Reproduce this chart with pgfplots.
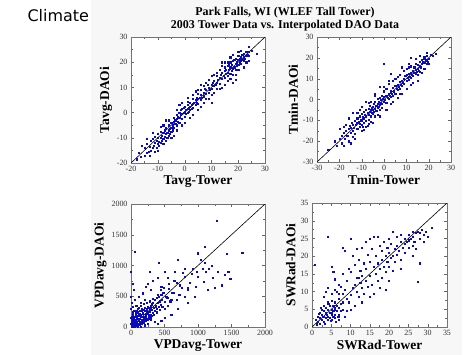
\documentclass[border=0pt]{standalone}
\usepackage{fontspec}
\setmainfont{Liberation Serif}
\newfontfamily\climatefont{DejaVu Sans}
\usepackage{pgfplots}
\pgfplotsset{compat=1.18}
\definecolor{ptblue}{RGB}{10,10,190}
\definecolor{panel}{RGB}{247,247,247}
\pgfplotsset{myax/.style={
  scale only axis, anchor=south west,
  tick align=inside, xtick pos=both, ytick pos=both,
  minor tick num=1,
  major tick length=3bp, minor tick length=1.6bp,
  tick style={black!60},
  axis line style={black!55},
  tick label style={font=\fontsize{8}{9}\selectfont, text=black!80},
  label style={font=\bfseries\fontsize{13.5}{14}\selectfont},
  /pgf/number format/assume math mode=true,
  /pgf/number format/1000 sep={},
  axis background/.style={fill=white},
  xlabel style={yshift=3bp},
  ylabel style={yshift=-2bp},
  }}
\pgfplotsset{pts/.style={only marks, mark=square*, mark size=0.55bp, ptblue, mark options={draw=none, fill=ptblue}}}
\begin{document}
\begin{tikzpicture}
\fill[white] (0bp,0bp) rectangle (474bp,355bp);
\fill[panel] (91bp,0bp) rectangle (462bp,355bp);
\node[font=\climatefont\fontsize{16}{18}\selectfont, anchor=west] at (24bp,339bp) {Climate};
\node[font=\bfseries\fontsize{12}{12.6}\selectfont, align=center] at (285bp,336bp) {Park Falls, WI (WLEF Tall Tower)\\2003 Tower Data vs. Interpolated DAO Data};

% ---------- Tavg ----------
\begin{axis}[myax, at={(131bp,192bp)}, width=134bp, height=126bp,
  xmin=-20, xmax=30, ymin=-20, ymax=30,
  xtick={-20,-10,...,30}, ytick={-20,-10,...,30},
  xlabel={Tavg-Tower}, ylabel={Tavg-DAOi}]
\addplot[black, no marks, line width=0.6bp] coordinates {(-20,-20) (30,30)};
\addplot[pts] coordinates {
(-18,-18.5) (-17,-16) (-16.5,-17.5) (-15,-17) (-15,-14) (-14,-16) (-14,-12.5) (-13.5,-15.5) (-13,-13.5) (-12.5,-11) (-12.5,-15) (-12,-14) (-12,-10.5) (-11.5,-13) (-11,-12) (-11,-9.5) (-10.5,-14) (-10.5,-11) (-10,-12.5) (-10,-10) (-10,-8.5) (-9.5,-11.5) (-9.5,-13) (-9,-10) (-9,-12) (-9,-7.5) (-8.5,-9) (-8.5,-11) (-8,-10.5) (-8,-8) (-8,-12.5) (-7.5,-9.5) (-7.5,-7) (-7,-8.5) (-7,-11) (-7,-6) (-6.5,-8) (-6.5,-10) (-6,-7) (-6,-9) (-6,-5) (-5.5,-6.5) (-5.5,-8.5) (-5,-6) (-5,-4) (-5,-7.5) (-4.5,-5) (-4.5,-7) (-4,-3.5) (-4,-6) (-4,-2) (-3.5,-4.5) (-3.5,-3) (-3,-2.5) (-3,-5) (-3,-1) (-2.5,-3.5) (-2.5,-1.5) (-2,-2) (-2,0) (-2,-4) (-1.5,-1) (-1.5,1) (-1,-0.5) (-1,-2.5) (-1,1.5) (-0.5,0) (-0.5,2) (0,0.5) (0,-1.5) (0,2.5) (0.5,1) (0.5,-0.5) (1,1.5) (1,0) (1,3) (1.5,2) (1.5,0.5) (2,2.5) (2,1) (2,4) (2.5,3) (2.5,1.5) (3,3.5) (3,2) (3,5.5) (3.5,4) (4,3) (4,5) (4.5,6) (4.5,4) (5,5.5) (5,3.5) (5,7.5) (5.5,6) (6,5) (6,7) (6,9) (6.5,6) (7,8) (7,4) (7,6.5) (7.5,9.5) (8,7.5) (8,9) (8.5,11) (9,8) (9,10) (9.5,9) (10,11) (10,9.5) (10.5,12) (11,10.5) (11,12.5) (11.5,11) (12,12) (12,14.5) (12.5,13) (13,14) (13,11.5) (13.5,15) (14,13.5) (14,16) (14.5,14.5) (15,16.5) (15,14) (15,18) (15.5,15.5) (15.5,17) (16,16) (16,18.5) (16,14.5) (16.5,17) (16.5,19) (17,15.5) (17,18) (17,20) (17.5,16.5) (17.5,19) (18,17.5) (18,20.5) (18,15) (18.5,18) (18.5,21) (19,19.5) (19,17) (19,21.5) (19.5,20) (19.5,18.5) (20,21) (20,19) (20,22.5) (20.5,20) (20.5,21.5) (21,19.5) (21,22) (21,20.5) (21.5,21) (21.5,23) (22,22) (22,20.5) (22,23.5) (22.5,21.5) (23,22.5) (23,24) (23.5,23) (24,22.5) (24,24) (25,24.5) (27,23.5) (19,15) (17,13.5) (14,10) (10,14.5) (5,9) (1,4.5) (-3,1) (-9,-5.5) (-14,-10.5) (8,5.5) (12,9.5) (16,12.5)
(-16,-13) (-13,-17) (-11,-15.5) (-8,-5) (-6,-3) (-5,-10) (-4,-9) (-2,3) (-1,4) (0,-4) (1,6) (2,-2) (3,7) (4,8.5) (5,1) (6,11) (7,10.5) (8,12) (9,5.5) (9,13) (10,7) (11,15) (11,8) (12,16) (13,9.5) (13,17) (14,18.5) (15,11) (16,20) (17,22) (18,23) (19,13) (20,17) (21,24.5) (22,18) (23,20) (24,20.5) (24,26) (20,24) (15,20) (3,-1) (-1,-5) (-7,-3) (-12,-8) (-10,-15) (6,2.5) (-3,-7) (18,12) (14,20) (10,4)
};
\end{axis}

% ---------- Tmin ----------
\begin{axis}[myax, at={(317bp,193bp)}, width=134bp, height=125bp,
  xmin=-30, xmax=30, ymin=-30, ymax=30,
  xtick={-30,-20,...,30}, ytick={-30,-20,...,30},
  xlabel={Tmin-Tower}, ylabel={Tmin-DAOi}]
\addplot[black, no marks, line width=0.6bp] coordinates {(-30,-30) (30,30)};
\addplot[pts] coordinates {
(-25,-24) (-22,-20) (-21,-22) (-20,-19) (-19,-17.5) (-19,-21) (-18,-16) (-18,-13) (-17.5,-19) (-17,-15) (-17,-12) (-16.5,-17.5) (-16,-14) (-16,-20) (-15.5,-12.5) (-15,-16) (-15,-13.5) (-15,-21) (-14.5,-11) (-14,-15) (-14,-12) (-14,-6.5) (-13.5,-13.5) (-13,-10) (-13,-16.5) (-12.5,-12) (-12,-9) (-12,-14) (-12,-11) (-11.5,-10.5) (-11,-13) (-11,-8) (-11,-11.5) (-10.5,-9.5) (-10,-12) (-10,-7) (-10,-10) (-9.5,-8.5) (-9.5,-13) (-9,-9) (-9,-6) (-9,-11) (-8.5,-7.5) (-8,-10) (-8,-5) (-8,-8) (-7.5,-6.5) (-7.5,-12.5) (-7,-7.5) (-7,-4.5) (-7,-9.5) (-6.5,-6) (-6.5,-3) (-6,-8) (-6,-5) (-6,-10.5) (-5.5,-4) (-5.5,-6.5) (-5,-7) (-5,-3.5) (-5,-5) (-4.5,-2) (-4.5,-6) (-4,-4.5) (-4,-1) (-4,-8) (-3.5,-3) (-3.5,-5.5) (-3,-2) (-3,-4) (-3,0.5) (-2.5,-3.5) (-2.5,-1) (-2,-2.5) (-2,-5) (-2,1) (-1.5,-1.5) (-1.5,0) (-1,-2) (-1,2) (-1,-4) (-0.5,0.5) (0,-1) (0,1.5) (0,17) (0,4) (0.5,0) (1,2) (1,-1.5) (1,5) (1.5,1) (2,3) (2,0.5) (2.5,2) (3,4) (3,12.5) (3,1.5) (3.5,3) (4,5.5) (4,2) (4.5,4) (5,6.5) (5,3) (5.5,5) (6,7) (6,4.5) (6.5,6) (7,8.5) (7,5) (7.5,7) (8,9) (8,6.5) (8.5,8) (9,10) (9,7.5) (9.5,11.5) (10,9) (10,12) (10,15) (10.5,10.5) (11,12.5) (11,9.5) (11,15.5) (11.5,11) (12,13) (12,10.5) (12,16) (12.5,12) (13,14) (13,11.5) (13.5,13) (13.5,15.5) (14,12.5) (14,14.5) (14,17) (14.5,13.5) (15,15) (15,16.5) (15,12) (15.5,14) (16,16) (16,18) (16,13.5) (16.5,15.5) (17,17) (17,19) (17.5,18) (18,17.5) (18,19.5) (18,20.5) (18.5,18.5) (19,19) (19,17) (19,21) (19.5,18) (20,19.5) (21,21.5) (23,22) (8,15.5) (6,11) (4,9) (2,7.5) (-2,6) (-4,3) (-8,-1) (-10,-3.5) (-12,-6.5) (12,7) (7,3) (-3,-7.5) (-9,-14.5) (-7,-11.5)
(-20,-14) (-18,-22) (-16,-9) (-13,-19) (-11,-5) (-10,-15) (-8,-13) (-6,-1) (-5,-11) (-4,2) (-2,-8) (0,6) (1,-5) (2,9) (3,-2) (5,10) (6,1) (7,12) (8,3) (9,14) (10,5) (11,17) (12,20) (13,8) (14,19.5) (15,9) (16,21) (17,13) (18,15) (19,22.5) (20,17) (22,21) (-14,-18) (-7,-1.5) (4,-1)
};
\end{axis}

% ---------- VPDavg ----------
\begin{axis}[myax, at={(131bp,28bp)}, width=134bp, height=123bp,
  xmin=0, xmax=2000, ymin=0, ymax=2000,
  xtick={0,500,...,2000}, ytick={0,500,...,2000},
  scaled ticks=false,
  xlabel={VPDavg-Tower}, ylabel={VPDavg-DAOi}]
\addplot[black, no marks, line width=0.6bp] coordinates {(0,0) (2000,2000)};
\addplot[pts] coordinates {
(10,20) (20,60) (30,10) (40,90) (50,40) (60,120) (70,30) (80,150) (90,70) (100,50) (110,180) (120,100) (130,140) (140,60) (150,200) (160,120) (170,90) (180,230) (190,160) (200,110) (210,260) (220,190) (230,140) (240,290) (250,220) (260,170) (270,320) (280,250) (290,200) (300,350) (310,280) (320,230) (330,400) (340,310) (350,260) (360,440) (370,350) (380,300) (390,470) (400,390) (410,330) (420,500) (430,420) (440,360) (450,520) (460,450) (480,560) (500,410) (540,480) (560,620) (600,440) (640,560) (680,720) (720,520) (760,640) (800,820) (840,600) (880,720) (920,950) (960,660) (1000,820) (1040,1100) (1080,740) (1120,900) (1160,950) (1200,1000) (1220,800) (1250,640) (1280,1724) (1300,900) (1360,680) (1400,850) (1430,1190) (1450,900) (1480,780) (1660,1215) (1150,600) (950,500) (850,400) (700,300) (600,200) (500,150) (450,100) (400,50) (350,80) (300,120) (250,60) (200,30) (150,10) (100,5) (50,5) (0,50) (0,150) (0,300) (0,500) (0,900) (10,400) (20,250) (30,700) (40,600) (50,1220) (60,450) (80,350) (100,300) (120,500) (150,400) (170,550) (200,450) (220,650) (250,700) (280,900) (300,600) (330,750) (400,800) (420,1050) (450,650) (500,900) (550,800) (650,900) (700,1100) (800,950) (1000,1200) (1100,1300) (5,5) (15,100) (25,180) (35,30) (45,140) (55,80) (65,200) (75,110) (85,260) (95,20) (105,240) (115,320) (125,40) (135,270) (145,350) (155,90) (165,300) (175,170) (185,380) (195,70) (205,320) (215,210) (225,100) (235,400) (245,250) (255,330) (265,130) (275,280) (285,420) (295,310) (305,180) (315,370) (325,460) (345,200) (365,330) (385,240) (405,520) (425,280) (445,600) (465,330) (485,640) (505,300) (525,500) (545,350) (565,700) (585,420) (605,560) (645,750) (685,450) (725,680) (765,880) (805,500) (845,640) (905,860) (985,900) (1065,950) (1105,1050) (12,130) (22,30) (32,210) (42,50) (52,170) (62,20) (72,240) (82,90) (92,190) (102,130) (112,60) (122,220) (132,80) (142,170) (152,260) (162,50) (172,210) (182,120) (192,280) (212,150) (232,240) (252,120) (272,200) (292,160) (8,80) (18,160) (28,330) (38,120) (48,260) (58,60) (68,340) (78,190)
};
\end{axis}

% ---------- SWRad ----------
\begin{axis}[myax, at={(312bp,28bp)}, width=135bp, height=124bp,
  xmin=0, xmax=35, ymin=0, ymax=35,
  xtick={0,5,...,35}, ytick={0,5,...,35},
  xlabel={SWRad-Tower}, ylabel={SWRad-DAOi}]
\addplot[black, no marks, line width=0.6bp] coordinates {(0,0) (35,35)};
\addplot[pts] coordinates {
(1,2) (1.5,3) (1.5,1.5) (2,2.5) (2,4) (2,1) (2.5,3.5) (2.5,2) (2.5,5) (3,3) (3,1.5) (3,4.5) (3,6) (3.5,2.5) (3.5,4) (3.5,5.5) (4,3) (4,2) (4,5) (4,7) (4.5,4) (4.5,2.5) (4.5,6) (5,3.5) (5,5) (5,2) (5,7.5) (5.5,4.5) (5.5,3) (5.5,6) (6,5) (6,3.5) (6,7) (6,2.5) (6.5,4.5) (6.5,6) (7,5.5) (7,3.5) (7,8) (7.5,6.5) (7.5,4.5) (8,7) (8,9.5) (8,5) (1.2,0.8) (1.8,3.8) (2.2,5.5) (2.8,2.8) (3.2,1) (3.8,3.5) (4.2,6.5) (4.8,1.8) (5.2,4) (5.8,5.5) (6.2,1.5) (6.8,2.8) (3,8.5) (3.5,10) (4,11) (5,9.5) (0.8,17.5) (4,25.5) (5,17) (5.5,15.5) (6,13.5) (6.5,10) (7,12) (7.5,11.5) (8,15) (8,22.5) (8.5,21.5) (8.5,10.5) (9,13) (9,8) (9.5,16.5) (9.5,7) (10,9) (10,15.5) (10,25) (10.5,11) (10.5,20) (11,12) (11,17.5) (11,6) (11.5,10) (11.5,22) (12,14) (12,19) (12,8.5) (12.5,12.5) (12.5,16) (13,11) (13,22.5) (13,14.5) (13.5,9.5) (13.5,18) (14,13) (14,24) (14,16.5) (14.5,11.5) (14.5,20.5) (15,14.5) (15,25) (15,18.5) (15.5,12) (15.5,22) (16,17) (16,25.5) (16,9.5) (16.5,15) (16.5,20) (17,13) (17,18) (17,25.5) (17.5,16.5) (17.5,23) (18,19) (18,14) (18,21.5) (18.5,17) (18.5,24) (19,20) (19,15.5) (19,10.5) (19.5,18.5) (19.5,22.5) (20,21) (20,17) (20,25) (20.5,19.5) (20.5,23.5) (21,20) (21,16) (21,27) (21.5,22) (21.5,18.5) (22,23) (22,20.5) (22,25.5) (22.5,21.5) (23,24) (23,19) (23,26) (23.5,22.5) (24,25) (24,21) (24,23.5) (24.5,24) (25,26) (25,22.5) (25,24.5) (25.5,25) (26,27) (26,23) (26,25.5) (26.5,24) (27,26.5) (27,22) (27.5,12.8) (28,18) (27.5,27) (28,25) (28,26.5) (28.5,27.5) (29,26) (29,24) (29.5,27) (30,25.5) (31,28) (26,20) (23,16.5) (20,13) (17.5,11) (15,8.5) (13,7) (10,5) (8.5,3) (7,2) (9,4.5) (11.5,14) (6,10.5) (7,9.5)
};
\end{axis}
\end{tikzpicture}
\end{document}
